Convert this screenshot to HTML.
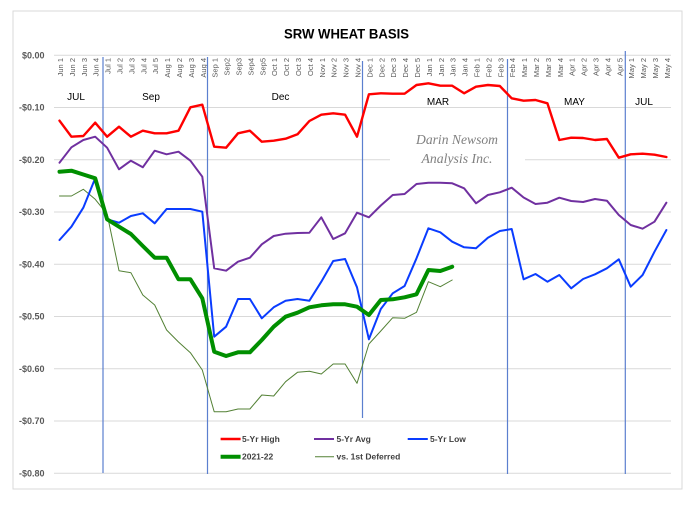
<!DOCTYPE html>
<html><head><meta charset="utf-8"><style>
html,body{margin:0;padding:0;background:#fff;}
svg{display:block;}
text{font-family:"Liberation Sans",sans-serif;}
</style></head><body>
<svg width="699" height="505" viewBox="0 0 699 505" xmlns="http://www.w3.org/2000/svg">
<rect x="0" y="0" width="699" height="505" fill="#fff"/>
<rect x="13" y="11" width="669" height="478" fill="none" stroke="#d9d9d9" stroke-width="1"/>
<text x="346.5" y="38.5" text-anchor="middle" font-size="13.5" font-weight="bold" fill="#000" textLength="125" lengthAdjust="spacingAndGlyphs">SRW WHEAT BASIS</text>
<g stroke="#d9d9d9" stroke-width="1">
<line x1="54" y1="55.3" x2="671" y2="55.3"/>
<line x1="54" y1="107.5" x2="671" y2="107.5"/>
<line x1="54" y1="159.8" x2="671" y2="159.8"/>
<line x1="54" y1="212" x2="671" y2="212"/>
<line x1="54" y1="264.3" x2="671" y2="264.3"/>
<line x1="54" y1="316.5" x2="671" y2="316.5"/>
<line x1="54" y1="368.8" x2="671" y2="368.8"/>
<line x1="54" y1="421" x2="671" y2="421"/>
<line x1="54" y1="473.3" x2="671" y2="473.3"/>
</g>
<g font-size="9" font-weight="bold" fill="#595959" text-anchor="end">
<text x="44.5" y="58.5">$0.00</text>
<text x="44.5" y="110.7">-$0.10</text>
<text x="44.5" y="163">-$0.20</text>
<text x="44.5" y="215.2">-$0.30</text>
<text x="44.5" y="267.5">-$0.40</text>
<text x="44.5" y="319.7">-$0.50</text>
<text x="44.5" y="372">-$0.60</text>
<text x="44.5" y="424.2">-$0.70</text>
<text x="44.5" y="476.5">-$0.80</text>
</g>
<g font-size="7.5" fill="#595959" text-anchor="end">
<text transform="translate(63,58) rotate(-90)">Jun 1</text>
<text transform="translate(74.9,58) rotate(-90)">Jun 2</text>
<text transform="translate(86.8,58) rotate(-90)">Jun 3</text>
<text transform="translate(98.7,58) rotate(-90)">Jun 4</text>
<text transform="translate(110.6,58) rotate(-90)">Jul 1</text>
<text transform="translate(122.5,58) rotate(-90)">Jul 2</text>
<text transform="translate(134.4,58) rotate(-90)">Jul 3</text>
<text transform="translate(146.3,58) rotate(-90)">Jul 4</text>
<text transform="translate(158.2,58) rotate(-90)">Jul 5</text>
<text transform="translate(170.1,58) rotate(-90)">Aug 1</text>
<text transform="translate(182,58) rotate(-90)">Aug 2</text>
<text transform="translate(193.9,58) rotate(-90)">Aug 3</text>
<text transform="translate(205.8,58) rotate(-90)">Aug 4</text>
<text transform="translate(217.7,58) rotate(-90)">Sep 1</text>
<text transform="translate(229.6,58) rotate(-90)">Sep2</text>
<text transform="translate(241.5,58) rotate(-90)">Sep3</text>
<text transform="translate(253.4,58) rotate(-90)">Sep4</text>
<text transform="translate(265.3,58) rotate(-90)">Sep5</text>
<text transform="translate(277.2,58) rotate(-90)">Oct 1</text>
<text transform="translate(289.1,58) rotate(-90)">Oct 2</text>
<text transform="translate(301,58) rotate(-90)">Oct 3</text>
<text transform="translate(312.9,58) rotate(-90)">Oct 4</text>
<text transform="translate(324.8,58) rotate(-90)">Nov 1</text>
<text transform="translate(336.7,58) rotate(-90)">Nov 2</text>
<text transform="translate(348.6,58) rotate(-90)">Nov 3</text>
<text transform="translate(360.5,58) rotate(-90)">Nov 4</text>
<text transform="translate(372.4,58) rotate(-90)">Dec 1</text>
<text transform="translate(384.3,58) rotate(-90)">Dec 2</text>
<text transform="translate(396.2,58) rotate(-90)">Dec 3</text>
<text transform="translate(408.1,58) rotate(-90)">Dec 4</text>
<text transform="translate(420,58) rotate(-90)">Dec 5</text>
<text transform="translate(431.9,58) rotate(-90)">Jan 1</text>
<text transform="translate(443.8,58) rotate(-90)">Jan 2</text>
<text transform="translate(455.7,58) rotate(-90)">Jan 3</text>
<text transform="translate(467.6,58) rotate(-90)">Jan 4</text>
<text transform="translate(479.5,58) rotate(-90)">Feb 1</text>
<text transform="translate(491.4,58) rotate(-90)">Feb 2</text>
<text transform="translate(503.3,58) rotate(-90)">Feb 3</text>
<text transform="translate(515.2,58) rotate(-90)">Feb 4</text>
<text transform="translate(527.1,58) rotate(-90)">Mar 1</text>
<text transform="translate(539,58) rotate(-90)">Mar 2</text>
<text transform="translate(550.9,58) rotate(-90)">Mar 3</text>
<text transform="translate(562.8,58) rotate(-90)">Mar 4</text>
<text transform="translate(574.7,58) rotate(-90)">Apr 1</text>
<text transform="translate(586.6,58) rotate(-90)">Apr 2</text>
<text transform="translate(598.5,58) rotate(-90)">Apr 3</text>
<text transform="translate(610.4,58) rotate(-90)">Apr 4</text>
<text transform="translate(622.3,58) rotate(-90)">Apr 5</text>
<text transform="translate(634.2,58) rotate(-90)">May 1</text>
<text transform="translate(646.1,58) rotate(-90)">May 2</text>
<text transform="translate(658,58) rotate(-90)">May 3</text>
<text transform="translate(669.9,58) rotate(-90)">May 4</text>
</g>
<g font-size="10" fill="#000" text-anchor="middle">
<text x="76" y="100">JUL</text>
<text x="151" y="100">Sep</text>
<text x="280.5" y="100">Dec</text>
<text x="438" y="105">MAR</text>
<text x="574.5" y="105">MAY</text>
<text x="644" y="105">JUL</text>
</g>
<rect x="390" y="115" width="135" height="63" fill="#fff"/>
<g font-family="Liberation Serif, serif" font-style="italic" font-size="14" fill="#808080" text-anchor="middle">
<text x="457" y="144" textLength="82" lengthAdjust="spacingAndGlyphs" style="font-family:'Liberation Serif',serif">Darin Newsom</text>
<text x="457" y="163" textLength="71" lengthAdjust="spacingAndGlyphs" style="font-family:'Liberation Serif',serif">Analysis Inc.</text>
</g>
<g stroke="#5b7fcf" stroke-width="1.2">
<line x1="103" y1="57" x2="103" y2="473"/>
<line x1="207.5" y1="57" x2="207.5" y2="474"/>
<line x1="362.5" y1="61" x2="362.5" y2="418"/>
<line x1="507.5" y1="59" x2="507.5" y2="474"/>
<line x1="625.3" y1="51" x2="625.3" y2="474"/>
</g>
<g fill="none" stroke-linejoin="round" stroke-linecap="round">
<polyline stroke="#538135" stroke-width="1" points="59.5,196 71.4,196 83.3,189.3 95.2,199.3 107.1,214 119,270.7 130.9,272.7 142.8,295 154.7,305 166.6,330 178.5,342 190.4,352.7 202.3,370 214.2,411.7 226.1,411.7 238,409 249.9,409 261.8,395 273.7,396 285.6,381.7 297.5,372.3 309.4,371.3 321.3,374 333.2,364 345.1,364 357,383.3 368.9,344 380.8,331 392.7,317.7 404.6,318.3 416.5,312.3 428.4,281.7 440.3,286.7 452.2,280"/>
<polyline stroke="#0a3cff" stroke-width="2" points="59.5,240 71.4,226.7 83.3,207.7 95.2,178.3 107.1,219.3 119,222.7 130.9,216 142.8,213.3 154.7,223.3 166.6,209 178.5,209 190.4,209 202.3,211.7 214.2,336.7 226.1,326.7 238,299 249.9,299 261.8,318.3 273.7,307.3 285.6,300.7 297.5,299 309.4,300.7 321.3,281.7 333.2,261 345.1,259 357,287.3 368.9,339.3 380.8,309 392.7,293.3 404.6,286 416.5,258.3 428.4,228.3 440.3,232.3 452.2,241.7 464.1,247.3 476,248.3 487.9,237.7 499.8,231 511.7,229 523.6,279.3 535.5,274 547.4,281.7 559.3,275 571.2,288.3 583.1,279 595,274.3 606.9,268.3 618.8,259.3 630.7,286.7 642.6,275 654.5,251.7 666.4,230"/>
<polyline stroke="#7030a0" stroke-width="2" points="59.5,162.7 71.4,147.3 83.3,140 95.2,136.7 107.1,147.7 119,169.3 130.9,160.7 142.8,167.3 154.7,150.7 166.6,154.3 178.5,151.7 190.4,160.7 202.3,176.7 214.2,268.3 226.1,270.7 238,261.7 249.9,257.7 261.8,244.3 273.7,236 285.6,233.7 297.5,233 309.4,232.7 321.3,217.3 333.2,239 345.1,233.3 357,212.7 368.9,217.3 380.8,205.5 392.7,195 404.6,194 416.5,184 428.4,182.7 440.3,182.7 452.2,183.3 464.1,188.3 476,203.3 487.9,195 499.8,192.3 511.7,187.7 523.6,197.5 535.5,204 547.4,202.7 559.3,197.7 571.2,201 583.1,202 595,199 606.9,200.7 618.8,215 630.7,225 642.6,228.7 654.5,221.7 666.4,202.7"/>
<polyline stroke="#ff0000" stroke-width="2.4" points="59.5,120.7 71.4,136.7 83.3,136 95.2,122.7 107.1,136.7 119,126.7 130.9,136.7 142.8,130.7 154.7,133.3 166.6,133.3 178.5,130.7 190.4,107.3 202.3,104.7 214.2,146.7 226.1,147.7 238,133.3 249.9,130.7 261.8,141.7 273.7,140.7 285.6,138.7 297.5,134.3 309.4,121 321.3,114.7 333.2,113.3 345.1,114.7 357,136.7 368.9,94.3 380.8,93.3 392.7,93.7 404.6,93.7 416.5,85 428.4,83.3 440.3,85.7 452.2,85.7 464.1,93.3 476,86.7 487.9,85 499.8,86 511.7,98.3 523.6,100.7 535.5,100 547.4,103.3 559.3,140 571.2,137.7 583.1,138 595,140 606.9,139 618.8,157.7 630.7,154.3 642.6,153.7 654.5,154.7 666.4,157"/>
<polyline stroke="#008f00" stroke-width="4" points="59.5,171.7 71.4,170.7 83.3,174.5 95.2,178.3 107.1,219.3 119,226.7 130.9,234 142.8,246 154.7,257.7 166.6,257.7 178.5,279.3 190.4,279.3 202.3,298.3 214.2,351.7 226.1,356 238,352.3 249.9,352.3 261.8,340 273.7,326.7 285.6,316.7 297.5,312.7 309.4,307.3 321.3,305.3 333.2,304.3 345.1,304.3 357,306.7 368.9,315 380.8,300 392.7,299.3 404.6,297.3 416.5,294.3 428.4,270 440.3,271 452.2,266.7"/>
</g>
<g font-size="8.5" font-weight="bold" fill="#404040">
<line x1="220.6" y1="439" x2="240.6" y2="439" stroke="#ff0000" stroke-width="2.4"/>
<text x="242" y="442">5-Yr High</text>
<line x1="314" y1="439" x2="334" y2="439" stroke="#7030a0" stroke-width="2"/>
<text x="336.5" y="442">5-Yr Avg</text>
<line x1="407.7" y1="439" x2="427.8" y2="439" stroke="#0a3cff" stroke-width="2"/>
<text x="430" y="442">5-Yr Low</text>
<line x1="220.6" y1="456.7" x2="240.6" y2="456.7" stroke="#008f00" stroke-width="4"/>
<text x="242" y="459.7">2021-22</text>
<line x1="315" y1="456.7" x2="334" y2="456.7" stroke="#538135" stroke-width="1"/>
<text x="336.5" y="459.7">vs. 1st Deferred</text>
</g>
</svg>
</body></html>
